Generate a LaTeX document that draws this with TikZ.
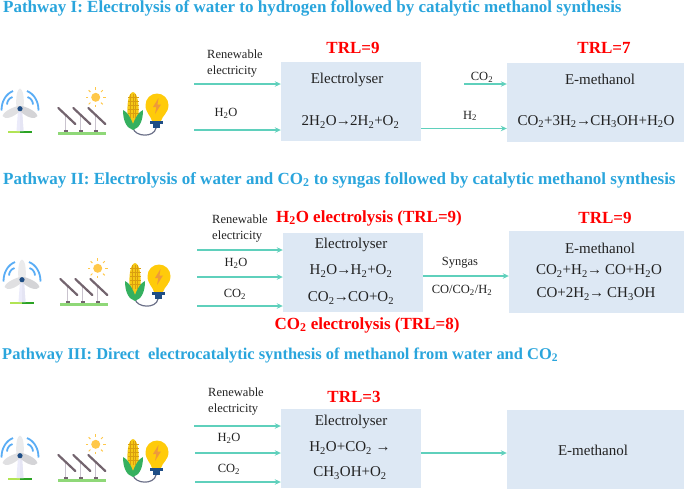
\documentclass[tikz,border=0pt]{standalone}
\usepackage{fontspec}
\setmainfont{Liberation Serif}
\usetikzlibrary{arrows.meta}
\definecolor{boxfill}{HTML}{DDE8F4}
\definecolor{flowc}{HTML}{5FD0BC}
\definecolor{titlec}{HTML}{2AA5DC}
\definecolor{txt}{HTML}{222222}
\definecolor{arcblue}{HTML}{5AADF5}
\definecolor{panelc}{HTML}{73646E}
\definecolor{postc}{HTML}{C9C3CE}
\definecolor{groundc}{HTML}{8FD878}
\definecolor{sunc}{HTML}{FFC84A}
\definecolor{cornc}{HTML}{F6C915}
\definecolor{corng}{HTML}{D99E10}
\definecolor{leafc}{HTML}{35B05F}
\definecolor{bulbc}{HTML}{FFCB0A}
\definecolor{boltc}{HTML}{EE9A3A}
\definecolor{navyc}{HTML}{1F4E86}
\definecolor{cablec}{HTML}{6B7088}
\newcommand{\sbs}[1]{\textsubscript{#1}}
\newcommand{\rar}{\kern-0.7pt→\kern-0.7pt}
\tikzset{
  x=1pt,y=-1pt,
  stagebox/.style={draw=none,fill=boxfill,inner sep=0pt},
  flow/.style={draw=flowc,line width=1.2pt,-{Stealth[length=6pt,width=5.5pt]}},
  boxtext/.style={inner sep=0pt,text=txt,font=\fontsize{15}{17}\selectfont},
  smalltext/.style={inner sep=0pt,text=txt,font=\fontsize{12.5}{16}\selectfont,align=left},
  trl/.style={inner sep=0pt,text=red,font=\bfseries\fontsize{17}{19}\selectfont},
  pathtitle/.style={inner sep=0pt,anchor=base west,text=titlec,font=\bfseries\fontsize{17}{19}\selectfont},
  pathtitlesm/.style={pathtitle,font=\bfseries\fontsize{16.45}{19}\selectfont},
}
\newcommand{\iconset}[2]{%
\begin{scope}[shift={(#1,#2)}]
  % wind turbine
  \fill[groundc!70!yellow] (8,130.5) rectangle (20,133);
  \fill[green!55!black!70!groundc] (20,130.5) rectangle (31.5,133);
  \fill[black!25!blue!8!white] (18,110) -- (22,110) -- (23.5,131) -- (16.5,131) -- cycle;
  \fill[black!45!blue!10!white] (20,110) -- (22,110) -- (23.5,131) -- (20,131) -- cycle;
  \fill[blue!6!black!8!white] (20,88.5) .. controls (17,89.5) and (15.5,97) .. (16.5,108) -- (23.5,108) .. controls (24.5,97) and (23,89.5) .. (20,88.5) -- cycle;
  \fill[blue!6!black!12!white] (18,106) .. controls (10,108) and (2.5,113) .. (2.5,116) .. controls (5,120.5) and (14,117) .. (20,111) -- cycle;
  \fill[blue!8!black!17!white] (22,106) .. controls (30,108) and (37.5,113) .. (37.5,116) .. controls (35,120.5) and (26,117) .. (20,111) -- cycle;
  \fill[navyc] (20,108.7) circle (2.6);
  \draw[arcblue,line width=1.8pt] (1.5,110.5) .. controls (1.5,101) and (6,94) .. (13,91);
  \draw[arcblue,line width=1.8pt] (38.5,110.5) .. controls (38.5,101) and (34,94) .. (27,91);
  \draw[arcblue,line width=1.8pt] (7,104.5) .. controls (7,101) and (9.5,98) .. (12.5,97);
  \draw[arcblue,line width=1.8pt] (33,104.5) .. controls (33,101) and (30.5,98) .. (27.5,97);
  % solar panels
  \foreach \px in {65.7,80.7,95.7}{
    \draw[postc,line width=1.3pt] (\px,114) -- (\px,130);
    \fill[panelc] (\px-2,132) rectangle (\px+2,129.5);
  }
  \fill[groundc] (58,132) rectangle (106,135);
  \foreach \px in {58.3,73.3,88.3}{
    \draw[panelc,line width=2.2pt,line cap=round] (\px,108) -- (\px+17,124);
  }
  \fill[sunc] (95.7,97.3) circle (4.5);
  \foreach \a in {0,45,...,315}{
    \draw[sunc,line width=1pt] (95.7,97.3) ++(\a:7.5) -- ++(\a:2.5);
  }
  % corn
  \draw[cablec,line width=1.2pt] (133,128) .. controls (135,137) and (154,138) .. (156,128);
  \fill[cornc] (133,92) .. controls (128,93) and (127,105) .. (127.5,115) -- (133,127) -- (138.5,115) .. controls (139,105) and (138,93) .. (133,92) -- cycle;
  \foreach \yy in {97,101,105,109,113}{
    \draw[corng,line width=.35pt] (128,\yy) -- (138.5,\yy);
  }
  \foreach \xx in {130.5,133,135.5}{
    \draw[corng,line width=.35pt] (\xx,94) -- (\xx,118);
  }
  \fill[leafc] (123,110) .. controls (127,112) and (130,116) .. (133,124) .. controls (136,116) and (139,112) .. (143,110) .. controls (143,120) and (140,128) .. (133,130) .. controls (126,128) and (123,120) .. (123,110) -- cycle;
  % bulb
  \fill[bulbc] (152,121) .. controls (151,116) and (145.5,113) .. (145.5,105) .. controls (145.5,98.7) and (150.7,93.5) .. (157,93.5) .. controls (163.3,93.5) and (168.5,98.7) .. (168.5,105) .. controls (168.5,113) and (162,116) .. (161,121) -- cycle;
  \fill[boltc] (158.5,98) -- (153,107) -- (156.3,107) -- (155,114) -- (161,104.5) -- (157.5,104.5) -- cycle;
  \fill[navyc] (150,121) rectangle (163,124);
  \fill[navyc] (153,124) rectangle (160,128);
\end{scope}}
\begin{document}
\begin{tikzpicture}
\useasboundingbox (0,0) rectangle (685,490);
% titles
\node[pathtitle] (t1) at (3,12.3) {Pathway I: Electrolysis of water to hydrogen followed by catalytic methanol synthesis};
\node[pathtitle] (t2) at (3,184) {Pathway II: Electrolysis of water and CO\sbs{2} to syngas followed by catalytic methanol synthesis};
\node[pathtitlesm] (t3) at (2,359) {Pathway III: Direct \ electrocatalytic synthesis of methanol from water and CO\sbs{2}};
% icons
\iconset{0}{0}
\iconset{2}{171}
\iconset{0}{347}
% row 1
\node[stagebox,minimum width=140pt,minimum height=79pt] (e1) at (351,101.5) {};
\node[stagebox,minimum width=177pt,minimum height=79pt] (m1) at (595.5,102.5) {};
\node[trl] (trl1a) at (353,48) {TRL=9};
\node[trl] (trl1b) at (604,48) {TRL=7};
\node[smalltext] (re1) at (235,64) {Renewable\\electricity};
\node[smalltext] (w1) at (226,113) {H\sbs{2}O};
\node[boxtext] (e1n) at (347,80) {Electrolyser};
\node[boxtext] (e1q) at (350.5,122) {2H\sbs{2}O\rar 2H\sbs{2}+O\sbs{2}};
\node[boxtext] (m1n) at (600,79) {E-methanol};
\node[boxtext] (m1q) at (596,122) {CO\sbs{2}+3H\sbs{2}\rar CH\sbs{3}OH+H\sbs{2}O};
\node[smalltext] (c1) at (482,77) {CO\sbs{2}};
\node[smalltext] (h1) at (470,116) {H\sbs{2}};
\coordinate (a1) at (194,84);
\coordinate (a2) at (194,130);
\coordinate (a3) at (464,84);
\coordinate (a4) at (421,128.5);
\draw[flow] (a1) -- (a1 -| e1.west);
\draw[flow] (a2) -- (a2 -| e1.west);
\draw[flow] (a3) -- (a3 -| m1.west);
\draw[flow] (a4 -| e1.east) -- (a4 -| m1.west);
% row 2
\node[stagebox,minimum width=140pt,minimum height=79pt] (e2) at (353,272.5) {};
\node[stagebox,minimum width=175pt,minimum height=82pt] (m2) at (596.5,272) {};
\node[trl] (trl2a) at (369,218) {H\sbs{2}O electrolysis (TRL=9)};
\node[trl] (trl2b) at (367,325) {CO\sbs{2} electrolysis (TRL=8)};
\node[trl] (trl2c) at (605,218) {TRL=9};
\node[smalltext] (re2) at (240,228.5) {Renewable\\electricity};
\node[smalltext] (w2) at (236,263) {H\sbs{2}O};
\node[smalltext] (c2) at (235,294) {CO\sbs{2}};
\node[boxtext] (e2n) at (351,245) {Electrolyser};
\node[boxtext] (e2q) at (351,271) {H\sbs{2}O\rar H\sbs{2}+O\sbs{2}};
\node[boxtext] (e2r) at (351,298) {CO\sbs{2}\rar CO+O\sbs{2}};
\node[smalltext] (s2) at (460,263) {Syngas};
\node[smalltext] (s2b) at (462,290) {CO/CO\sbs{2}/H\sbs{2}};
\node[boxtext] (m2n) at (600,248) {E-methanol};
\node[boxtext] (m2q) at (599,271) {CO\sbs{2}+H\sbs{2}\rar\ CO+H\sbs{2}O};
\node[boxtext] (m2r) at (596,294) {CO+2H\sbs{2}\rar\ CH\sbs{3}OH};
\coordinate (b1) at (197,250);
\coordinate (b2) at (197,277);
\coordinate (b3) at (197,306);
\coordinate (b4) at (423,276);
\draw[flow] (b1) -- (b1 -| e2.west);
\draw[flow] (b2) -- (b2 -| e2.west);
\draw[flow] (b3) -- (b3 -| e2.west);
\draw[flow] (b4 -| e2.east) -- (b4 -| m2.west);
% row 3
\node[stagebox,minimum width=140pt,minimum height=79pt] (e3) at (351,448.5) {};
\node[stagebox,minimum width=177pt,minimum height=79pt] (m3) at (595.5,449.5) {};
\node[trl] (trl3) at (354,397) {TRL=3};
\node[smalltext] (re3) at (236,402) {Renewable\\electricity};
\node[smalltext] (w3) at (229,438) {H\sbs{2}O};
\node[smalltext] (c3) at (229,469) {CO\sbs{2}};
\node[boxtext] (e3n) at (351,422) {Electrolyser};
\node[boxtext] (e3q) at (350,448) {H\sbs{2}O+CO\sbs{2} →};
\node[boxtext] (e3r) at (350,473) {CH\sbs{3}OH+O\sbs{2}};
\node[boxtext] (m3n) at (593,450) {E-methanol};
\coordinate (d1) at (194,426);
\coordinate (d2) at (195,453);
\coordinate (d3) at (195,482);
\coordinate (d4) at (421,453);
\draw[flow] (d1) -- (d1 -| e3.west);
\draw[flow] (d2) -- (d2 -| e3.west);
\draw[flow] (d3) -- (d3 -| e3.west);
\draw[flow] (d4 -| e3.east) -- (d4 -| m3.west);
\end{tikzpicture}
\end{document}
